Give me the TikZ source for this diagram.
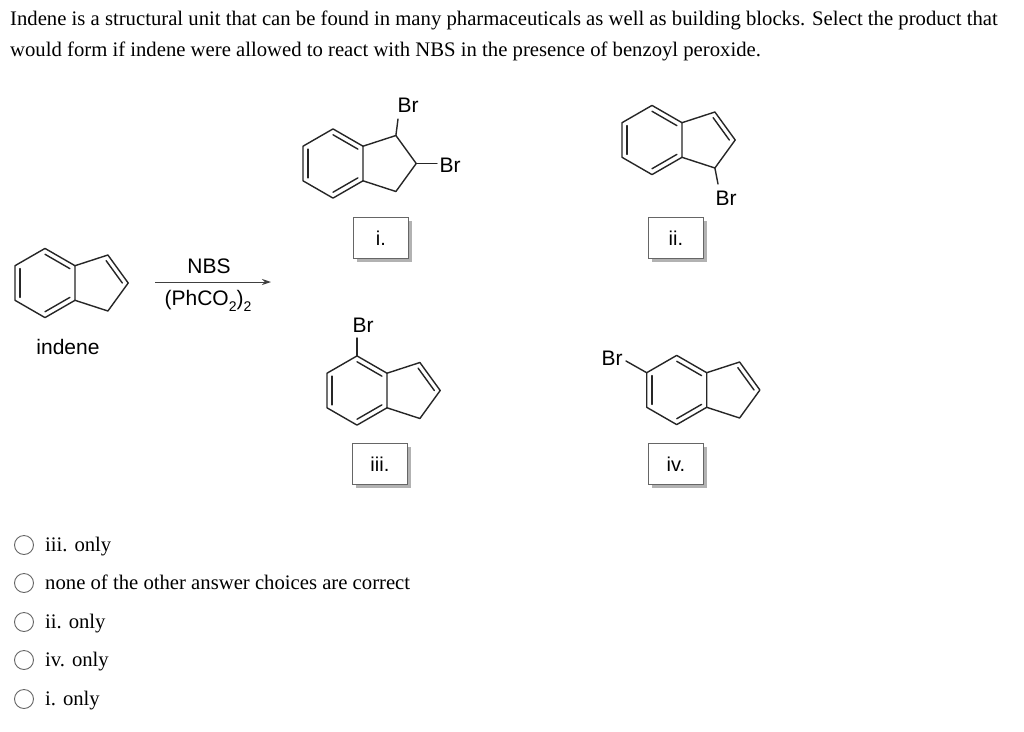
\documentclass[tikz,border=0pt]{standalone}
\usepackage{fontspec}
\setmainfont{Liberation Serif}
\newfontfamily\arialf{Liberation Sans}
\usetikzlibrary{calc,arrows.meta}
\tikzset{
  bond/.style={line width=1.4pt, line cap=round, line join=round, draw=black!85},
  lbl/.style={font=\arialf\fontsize{21}{24}\selectfont, inner sep=0pt},
  qtext/.style={font=\fontsize{20.7}{24}\selectfont, anchor=base west, inner sep=0pt},
  radio/.style={draw=black!60, line width=0.9pt, circle, minimum size=19pt, inner sep=0pt},
  tagbox/.style={draw=black!60, fill=white, line width=0.8pt, minimum width=55pt, minimum height=41pt, inner sep=0pt, font=\arialf\fontsize{20}{23}\selectfont}
}
\newcommand\sub[1]{\raisebox{-0.25em}{\fontsize{14}{16}\selectfont #1}}
\newcommand\ringcoords[1]{%
  \coordinate (#1-O) at (0,0);
  \coordinate (#1-T) at (0,-34.6);
  \coordinate (#1-UR) at (30,-17.3);
  \coordinate (#1-LR) at (30,17.3);
  \coordinate (#1-B) at (0,34.6);
  \coordinate (#1-LL) at (-30,17.3);
  \coordinate (#1-UL) at (-30,-17.3);
  \coordinate (#1-C) at (62.9,-28);
  \coordinate (#1-D) at (83.2,0);
  \coordinate (#1-E) at (62.9,28);
  \coordinate (#1-P) at (53.8,0);
  \draw[bond] (#1-T) -- (#1-UR) -- (#1-LR) -- (#1-B) -- (#1-LL) -- (#1-UL) -- cycle;
  \draw[bond] (#1-UR) -- (#1-C) -- (#1-D) -- (#1-E) -- (#1-LR);
  \draw[bond] ($(#1-T)!0.17!(#1-O)$) -- ($(#1-UR)!0.17!(#1-O)$);
  \draw[bond] ($(#1-B)!0.17!(#1-O)$) -- ($(#1-LR)!0.17!(#1-O)$);
  \draw[bond] ($(#1-UL)!0.17!(#1-O)$) -- ($(#1-LL)!0.17!(#1-O)$);
}
\newcommand\pentdbl[1]{\draw[bond] ($(#1-C)!0.2!(#1-P)$) -- ($(#1-D)!0.2!(#1-P)$);}
\newcommand\tag[4]{%
  \fill[black!30] (#2+4,#3+4) rectangle (#2+59,#3+45);
  \node[tagbox, anchor=north west] (#1) at (#2,#3) {#4};
}
\begin{document}
\begin{tikzpicture}[x=1pt,y=-1pt]
\useasboundingbox (0,0) rectangle (1024,731);
\fill[white] (0,0) rectangle (1024,731);
\node[qtext] (q1) at (10,25) {Indene is a structural unit that can be found in many pharmaceuticals as well as building blocks. Select the product that};
\node[qtext] (q2) at (10,56) {would form if indene were allowed to react with NBS in the presence of benzoyl peroxide.};

\begin{scope}[shift={(45,283)}]
  \ringcoords{ind}\pentdbl{ind}
\end{scope}
\node[lbl] (indl) at (68,347) {indene};

\coordinate (arA) at (155,282);
\coordinate (arB) at (271,282);
\draw[line width=1pt, black!75, -{Stealth[length=9pt,width=6pt]}] (arA) -- (arB);
\node[lbl] (nbs) at (209,266) {NBS};
\node[lbl] (bp) at (208,301) {(PhCO\sub{2})\sub{2}};

% i
\begin{scope}[shift={(333,163.5)}]
  \ringcoords{r1}
\end{scope}
\node[lbl] (br1a) at (408,105) {Br};
\node[lbl] (br1b) at (450,165) {Br};
\coordinate (e1a) at (398,119);
\coordinate (e1b) at (437,163.5);
\draw[bond] (r1-C) -- (e1a);
\draw[bond] (r1-D) -- (e1b);
\tag{t1}{353}{217}{i.}

% ii
\begin{scope}[shift={(652,140)}]
  \ringcoords{r2}\pentdbl{r2}
\end{scope}
\node[lbl] (br2) at (726,198) {Br};
\coordinate (e2) at (718,184);
\draw[bond] (r2-E) -- (e2);
\tag{t2}{648}{217}{ii.}

% iii
\begin{scope}[shift={(357,390.5)}]
  \ringcoords{r3}\pentdbl{r3}
\end{scope}
\node[lbl] (br3) at (363,325) {Br};
\coordinate (e3) at (357,338);
\draw[bond] (r3-T) -- (e3);
\tag{t3}{352}{443}{iii.}

% iv
\begin{scope}[shift={(676.7,390)}]
  \ringcoords{r4}\pentdbl{r4}
\end{scope}
\node[lbl] (br4) at (612,358) {Br};
\coordinate (e4) at (626,361);
\draw[bond] (r4-UL) -- (e4);
\tag{t4}{648}{443}{iv.}

\foreach \yy/\txt [count=\i] in {545/iii. only, 583/none of the other answer choices are correct, 622/ii. only, 660/iv. only, 699/i. only}{
  \node[radio] (c\i) at (24,\yy) {};
  \node[qtext] (a\i) at (45,\yy+6) {\txt};
}
\end{tikzpicture}
\end{document}
